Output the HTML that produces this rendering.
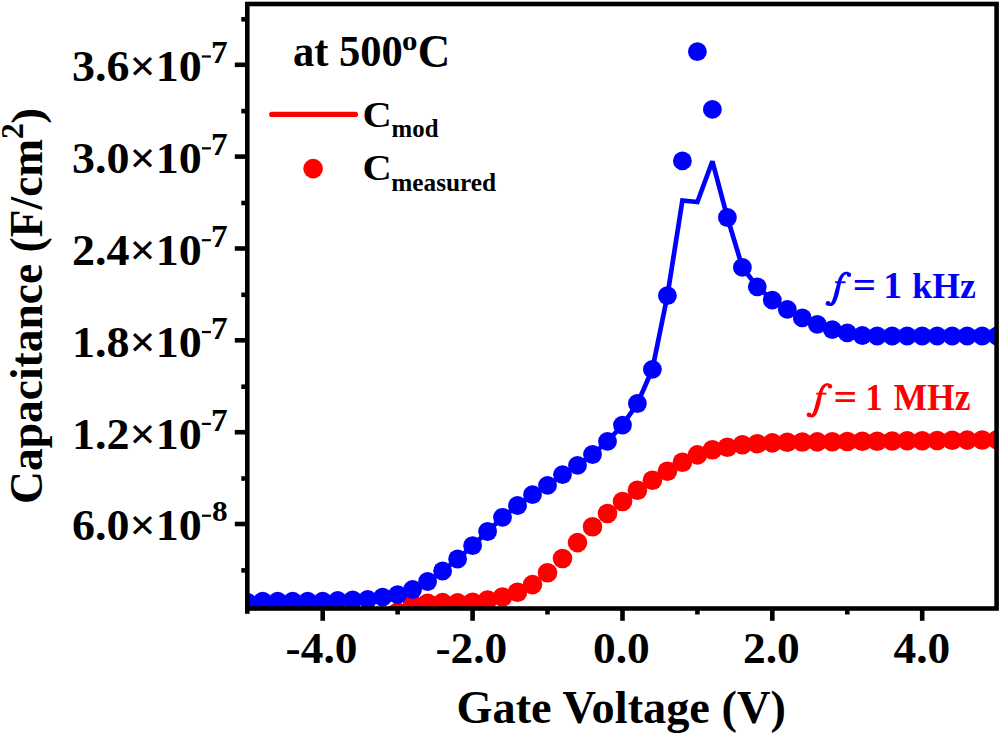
<!DOCTYPE html>
<html><head><meta charset="utf-8"><style>
html,body{margin:0;padding:0;background:#fff;}
svg{display:block;}
text{font-family:"Liberation Serif", serif;font-weight:bold;}
</style></head><body>
<svg width="1000" height="734" viewBox="0 0 1000 734">
<defs><clipPath id="pc"><rect x="247.3" y="4.0" width="749.3" height="604.5"/></clipPath></defs>
<g clip-path="url(#pc)">
<g fill="#ff0000"><circle cx="247.8" cy="620.0" r="9.8"/><circle cx="262.7" cy="620.0" r="9.8"/><circle cx="277.7" cy="620.0" r="9.8"/><circle cx="292.7" cy="620.0" r="9.8"/><circle cx="307.7" cy="620.0" r="9.8"/><circle cx="322.7" cy="620.0" r="9.8"/><circle cx="337.7" cy="620.0" r="9.8"/><circle cx="352.7" cy="620.0" r="9.8"/><circle cx="367.7" cy="620.0" r="9.8"/><circle cx="382.6" cy="618.0" r="9.8"/><circle cx="397.6" cy="612.3" r="9.8"/><circle cx="412.6" cy="604.5" r="9.8"/><circle cx="427.6" cy="603.2" r="9.8"/><circle cx="442.6" cy="602.6" r="9.8"/><circle cx="457.6" cy="602.9" r="9.8"/><circle cx="472.6" cy="602.2" r="9.8"/><circle cx="487.6" cy="600.0" r="9.8"/><circle cx="502.5" cy="597.0" r="9.8"/><circle cx="517.5" cy="592.3" r="9.8"/><circle cx="532.5" cy="584.6" r="9.8"/><circle cx="547.5" cy="572.7" r="9.8"/><circle cx="562.5" cy="558.5" r="9.8"/><circle cx="577.5" cy="542.6" r="9.8"/><circle cx="592.5" cy="526.8" r="9.8"/><circle cx="607.5" cy="513.5" r="9.8"/><circle cx="622.5" cy="501.5" r="9.8"/><circle cx="637.4" cy="490.3" r="9.8"/><circle cx="652.4" cy="480.3" r="9.8"/><circle cx="667.4" cy="471.3" r="9.8"/><circle cx="682.4" cy="462.3" r="9.8"/><circle cx="697.4" cy="454.9" r="9.8"/><circle cx="712.4" cy="449.7" r="9.8"/><circle cx="727.4" cy="447.3" r="9.8"/><circle cx="742.4" cy="444.7" r="9.8"/><circle cx="757.3" cy="443.7" r="9.8"/><circle cx="772.3" cy="442.9" r="9.8"/><circle cx="787.3" cy="442.2" r="9.8"/><circle cx="802.3" cy="442.0" r="9.8"/><circle cx="817.3" cy="441.9" r="9.8"/><circle cx="832.3" cy="441.7" r="9.8"/><circle cx="847.3" cy="441.5" r="9.8"/><circle cx="862.3" cy="441.3" r="9.8"/><circle cx="877.2" cy="441.2" r="9.8"/><circle cx="892.2" cy="441.0" r="9.8"/><circle cx="907.2" cy="440.8" r="9.8"/><circle cx="922.2" cy="440.7" r="9.8"/><circle cx="937.2" cy="440.5" r="9.8"/><circle cx="952.2" cy="440.3" r="9.8"/><circle cx="967.2" cy="440.1" r="9.8"/><circle cx="982.2" cy="440.0" r="9.8"/><circle cx="997.2" cy="439.8" r="9.8"/></g>
<polyline points="247.8,602.5 262.7,601.2 277.7,601.2 292.7,601.2 307.7,601.2 322.7,601.2 337.7,600.5 352.7,600.0 367.7,599.3 382.6,597.2 397.6,594.7 412.6,589.5 427.6,581.5 442.6,571.0 457.6,559.0 472.6,545.7 487.6,531.5 502.5,517.3 517.5,505.5 532.5,494.7 547.5,485.4 562.5,474.6 577.5,465.4 592.5,454.5 607.5,441.4 622.5,425.1 637.4,403.5 652.4,369.3 667.4,295.7 682.4,200.5 697.4,202.0 712.4,161.3 727.4,217.5 742.4,267.4 757.3,286.8 772.3,300.1 787.3,309.3 802.3,317.9 817.3,324.3 832.3,329.6 847.3,332.9 862.3,335.5 877.2,336.0 892.2,336.0 907.2,336.0 922.2,336.0 937.2,336.0 952.2,336.0 967.2,336.0 982.2,336.0 997.2,336.0" fill="none" stroke="#0000ff" stroke-width="4.7" stroke-linejoin="miter" stroke-miterlimit="2"/>
<g fill="#0000ff"><circle cx="247.8" cy="602.5" r="9.4"/><circle cx="262.7" cy="601.2" r="9.4"/><circle cx="277.7" cy="601.2" r="9.4"/><circle cx="292.7" cy="601.2" r="9.4"/><circle cx="307.7" cy="601.2" r="9.4"/><circle cx="322.7" cy="601.2" r="9.4"/><circle cx="337.7" cy="600.5" r="9.4"/><circle cx="352.7" cy="600.0" r="9.4"/><circle cx="367.7" cy="599.3" r="9.4"/><circle cx="382.6" cy="597.2" r="9.4"/><circle cx="397.6" cy="594.7" r="9.4"/><circle cx="412.6" cy="589.5" r="9.4"/><circle cx="427.6" cy="581.5" r="9.4"/><circle cx="442.6" cy="571.0" r="9.4"/><circle cx="457.6" cy="559.0" r="9.4"/><circle cx="472.6" cy="545.7" r="9.4"/><circle cx="487.6" cy="531.5" r="9.4"/><circle cx="502.5" cy="517.3" r="9.4"/><circle cx="517.5" cy="505.5" r="9.4"/><circle cx="532.5" cy="494.7" r="9.4"/><circle cx="547.5" cy="485.4" r="9.4"/><circle cx="562.5" cy="474.6" r="9.4"/><circle cx="577.5" cy="465.4" r="9.4"/><circle cx="592.5" cy="454.5" r="9.4"/><circle cx="607.5" cy="441.4" r="9.4"/><circle cx="622.5" cy="425.1" r="9.4"/><circle cx="637.4" cy="403.5" r="9.4"/><circle cx="652.4" cy="369.3" r="9.4"/><circle cx="667.4" cy="295.7" r="9.4"/><circle cx="682.4" cy="160.9" r="9.4"/><circle cx="697.4" cy="51.7" r="9.4"/><circle cx="712.4" cy="109.4" r="9.4"/><circle cx="727.4" cy="217.5" r="9.4"/><circle cx="742.4" cy="267.4" r="9.4"/><circle cx="757.3" cy="286.8" r="9.4"/><circle cx="772.3" cy="300.1" r="9.4"/><circle cx="787.3" cy="309.3" r="9.4"/><circle cx="802.3" cy="317.9" r="9.4"/><circle cx="817.3" cy="324.3" r="9.4"/><circle cx="832.3" cy="329.6" r="9.4"/><circle cx="847.3" cy="332.9" r="9.4"/><circle cx="862.3" cy="335.5" r="9.4"/><circle cx="877.2" cy="336.0" r="9.4"/><circle cx="892.2" cy="336.0" r="9.4"/><circle cx="907.2" cy="336.0" r="9.4"/><circle cx="922.2" cy="336.0" r="9.4"/><circle cx="937.2" cy="336.0" r="9.4"/><circle cx="952.2" cy="336.0" r="9.4"/><circle cx="967.2" cy="336.0" r="9.4"/><circle cx="982.2" cy="336.0" r="9.4"/><circle cx="997.2" cy="336.0" r="9.4"/></g>
</g>
<g stroke="#000" stroke-width="4.6" fill="none">
<rect x="247.3" y="4.0" width="749.3" height="604.5" stroke-linejoin="miter"/>
<line x1="247.3" y1="608.5" x2="247.3" y2="613.8"/>
<line x1="234.8" y1="64.8" x2="247.3" y2="64.8"/><line x1="234.8" y1="156.6" x2="247.3" y2="156.6"/><line x1="234.8" y1="248.5" x2="247.3" y2="248.5"/><line x1="234.8" y1="340.3" x2="247.3" y2="340.3"/><line x1="234.8" y1="432.2" x2="247.3" y2="432.2"/><line x1="234.8" y1="524.0" x2="247.3" y2="524.0"/><line x1="241.3" y1="19.3" x2="247.3" y2="19.3"/><line x1="241.3" y1="111.1" x2="247.3" y2="111.1"/><line x1="241.3" y1="203.0" x2="247.3" y2="203.0"/><line x1="241.3" y1="294.8" x2="247.3" y2="294.8"/><line x1="241.3" y1="386.7" x2="247.3" y2="386.7"/><line x1="241.3" y1="478.5" x2="247.3" y2="478.5"/><line x1="241.3" y1="570.4" x2="247.3" y2="570.4"/><line x1="322.7" y1="608.5" x2="322.7" y2="620.8"/><line x1="472.6" y1="608.5" x2="472.6" y2="620.8"/><line x1="622.5" y1="608.5" x2="622.5" y2="620.8"/><line x1="772.3" y1="608.5" x2="772.3" y2="620.8"/><line x1="922.2" y1="608.5" x2="922.2" y2="620.8"/><line x1="397.6" y1="608.5" x2="397.6" y2="614.5"/><line x1="547.5" y1="608.5" x2="547.5" y2="614.5"/><line x1="697.4" y1="608.5" x2="697.4" y2="614.5"/><line x1="847.3" y1="608.5" x2="847.3" y2="614.5"/>
</g>
<text transform="translate(71.96,81.11) scale(1.029,1)" font-size="44.71" fill="#000">3.6×10</text>
<text transform="translate(211.00,63.49) scale(1.063,1)" font-size="31.36" fill="#000">7</text>
<text transform="translate(71.96,172.96) scale(1.029,1)" font-size="44.71" fill="#000">3.0×10</text>
<text transform="translate(211.00,155.34) scale(1.063,1)" font-size="31.36" fill="#000">7</text>
<text transform="translate(71.96,264.81) scale(1.029,1)" font-size="44.71" fill="#000">2.4×10</text>
<text transform="translate(211.00,247.19) scale(1.063,1)" font-size="31.36" fill="#000">7</text>
<text transform="translate(71.96,356.66) scale(1.029,1)" font-size="44.71" fill="#000">1.8×10</text>
<text transform="translate(211.00,339.04) scale(1.063,1)" font-size="31.36" fill="#000">7</text>
<text transform="translate(71.96,448.51) scale(1.029,1)" font-size="44.71" fill="#000">1.2×10</text>
<text transform="translate(211.00,430.89) scale(1.063,1)" font-size="31.36" fill="#000">7</text>
<text transform="translate(71.96,540.36) scale(1.029,1)" font-size="44.71" fill="#000">6.0×10</text>
<text transform="translate(212.06,521.21) scale(1.056,1)" font-size="29.71" fill="#000">8</text>
<text transform="translate(285.57,663.41) scale(1.016,1)" font-size="44.71" fill="#000">-4.0</text>
<text transform="translate(435.45,663.41) scale(1.016,1)" font-size="44.71" fill="#000">-2.0</text>
<text transform="translate(593.06,663.41) scale(1.016,1)" font-size="44.71" fill="#000">0.0</text>
<text transform="translate(742.94,663.41) scale(1.016,1)" font-size="44.71" fill="#000">2.0</text>
<text transform="translate(893.50,663.41) scale(1.016,1)" font-size="44.71" fill="#000">4.0</text>
<text transform="translate(456.48,723.02) scale(0.995,1)" font-size="46.56" fill="#000">Gate Voltage (V)</text>
<text transform="translate(292.92,66.31) scale(0.959,1)" font-size="44.41" fill="#000">at 500</text>
<text transform="translate(402.06,49.53) scale(1.134,1)" font-size="27.29" fill="#000">o</text>
<text transform="translate(417.65,66.84) scale(0.985,1)" font-size="45.67" fill="#000">C</text>
<text transform="translate(362.43,126.59) scale(1.117,1)" font-size="36.27" fill="#000">C</text>
<text transform="translate(391.61,136.61) scale(1.016,1)" font-size="24.43" fill="#000">mod</text>
<text transform="translate(362.43,180.24) scale(1.117,1)" font-size="36.27" fill="#000">C</text>
<text transform="translate(391.14,191.45) scale(1.002,1)" font-size="25.29" fill="#000">measured</text>
<text transform="translate(852.76,298.41) scale(1.103,1)" font-size="37.04" fill="#0000ff">=</text>
<text transform="translate(883.37,298.00) scale(1.023,1)" font-size="36.97" fill="#0000ff">1</text>
<text transform="translate(912.29,297.65) scale(1.011,1)" font-size="35.36" fill="#0000ff">kHz</text>
<text transform="translate(833.51,409.81) scale(1.126,1)" font-size="37.04" fill="#ff0000">=</text>
<text transform="translate(865.19,410.00) scale(0.935,1)" font-size="37.58" fill="#ff0000">1</text>
<text transform="translate(893.49,409.52) scale(0.950,1)" font-size="37.50" fill="#ff0000">MHz</text>
<g fill="#000"><rect x="201.9" y="55.40" width="9.0" height="2.2"/><rect x="201.9" y="147.25" width="9.0" height="2.2"/><rect x="201.9" y="239.10" width="9.0" height="2.2"/><rect x="201.9" y="330.95" width="9.0" height="2.2"/><rect x="201.9" y="422.80" width="9.0" height="2.2"/><rect x="201.9" y="514.65" width="9.0" height="2.2"/></g>
<text transform="translate(42.25,503.9) rotate(-90)" font-size="45.5">Capacitance (F/cm</text>
<text transform="translate(22.6,139.0) rotate(-90)" font-size="31.8">2</text>
<text transform="translate(42.2,123.8) rotate(-90) scale(1.08,1)" font-size="44.4">)</text>

<g transform="translate(822,268)" fill="#0000ff"><path d="M28.48,7.31 L28.37,6.73 L28.17,6.13 L27.88,5.58 L27.50,5.10 L27.06,4.68 L26.56,4.33 L26.01,4.05 L25.41,3.85 L24.78,3.74 L24.11,3.73 L23.43,3.80 L22.74,3.97 L22.05,4.23 L21.35,4.59 L20.67,5.03 L20.00,5.57 L19.35,6.20 L18.72,6.92 L18.12,7.74 L17.55,8.65 L17.02,9.67 L16.54,10.78 L16.11,11.98 L15.83,12.89 L15.57,13.77 L15.31,14.65 L15.06,15.55 L14.80,16.45 L14.55,17.35 L14.30,18.26 L14.05,19.17 L13.81,20.07 L13.56,20.97 L13.31,21.87 L13.06,22.75 L12.81,23.62 L12.56,24.47 L12.31,25.31 L12.11,26.15 L11.91,26.96 L11.70,27.75 L11.49,28.51 L11.28,29.25 L11.07,29.95 L10.85,30.62 L10.61,31.30 L10.44,31.86 L10.28,32.31 L10.10,32.73 L9.92,33.12 L9.74,33.46 L9.55,33.77 L9.37,34.04 L9.18,34.27 L9.01,34.47 L8.86,34.66 L8.72,34.84 L8.58,35.00 L8.44,35.14 L8.29,35.26 L8.12,35.35 L7.94,35.43 L7.74,35.49 L7.51,35.51 L7.27,35.45 L7.02,35.35 L6.76,35.21 L6.49,35.03 L6.18,34.77 L4.82,36.23 L5.17,36.58 L5.56,36.91 L5.97,37.20 L6.41,37.44 L6.85,37.64 L7.31,37.83 L7.79,37.97 L8.29,38.04 L8.80,38.06 L9.32,38.01 L9.84,37.90 L10.35,37.73 L10.86,37.51 L11.33,37.22 L11.76,36.86 L12.17,36.46 L12.56,36.01 L12.92,35.54 L13.26,35.02 L13.58,34.48 L13.88,33.90 L14.15,33.28 L14.39,32.70 L14.67,32.04 L14.96,31.31 L15.24,30.55 L15.51,29.77 L15.78,28.97 L16.05,28.15 L16.31,27.31 L16.56,26.45 L16.77,25.57 L16.97,24.67 L17.17,23.77 L17.36,22.86 L17.55,21.95 L17.75,21.03 L17.94,20.11 L18.13,19.19 L18.32,18.27 L18.52,17.36 L18.71,16.46 L18.91,15.57 L19.10,14.69 L19.30,13.82 L19.49,13.02 L19.81,11.97 L20.15,11.04 L20.51,10.20 L20.89,9.45 L21.28,8.79 L21.68,8.21 L22.09,7.72 L22.50,7.30 L22.90,6.95 L23.30,6.67 L23.68,6.46 L24.04,6.30 L24.39,6.20 L24.71,6.14 L25.01,6.13 L25.29,6.15 L25.56,6.22 L25.79,6.34 L25.99,6.51 L26.16,6.72 L26.31,6.97 L26.43,7.27 L26.52,7.69Z"/><circle cx="27" cy="6.8" r="2.2"/><circle cx="6" cy="35.4" r="2.4"/><rect x="13.2" y="13.3" width="10.3" height="1.9"/></g><g transform="translate(803,379.4)" fill="#ff0000"><path d="M28.48,7.31 L28.37,6.73 L28.17,6.13 L27.88,5.58 L27.50,5.10 L27.06,4.68 L26.56,4.33 L26.01,4.05 L25.41,3.85 L24.78,3.74 L24.11,3.73 L23.43,3.80 L22.74,3.97 L22.05,4.23 L21.35,4.59 L20.67,5.03 L20.00,5.57 L19.35,6.20 L18.72,6.92 L18.12,7.74 L17.55,8.65 L17.02,9.67 L16.54,10.78 L16.11,11.98 L15.83,12.89 L15.57,13.77 L15.31,14.65 L15.06,15.55 L14.80,16.45 L14.55,17.35 L14.30,18.26 L14.05,19.17 L13.81,20.07 L13.56,20.97 L13.31,21.87 L13.06,22.75 L12.81,23.62 L12.56,24.47 L12.31,25.31 L12.11,26.15 L11.91,26.96 L11.70,27.75 L11.49,28.51 L11.28,29.25 L11.07,29.95 L10.85,30.62 L10.61,31.30 L10.44,31.86 L10.28,32.31 L10.10,32.73 L9.92,33.12 L9.74,33.46 L9.55,33.77 L9.37,34.04 L9.18,34.27 L9.01,34.47 L8.86,34.66 L8.72,34.84 L8.58,35.00 L8.44,35.14 L8.29,35.26 L8.12,35.35 L7.94,35.43 L7.74,35.49 L7.51,35.51 L7.27,35.45 L7.02,35.35 L6.76,35.21 L6.49,35.03 L6.18,34.77 L4.82,36.23 L5.17,36.58 L5.56,36.91 L5.97,37.20 L6.41,37.44 L6.85,37.64 L7.31,37.83 L7.79,37.97 L8.29,38.04 L8.80,38.06 L9.32,38.01 L9.84,37.90 L10.35,37.73 L10.86,37.51 L11.33,37.22 L11.76,36.86 L12.17,36.46 L12.56,36.01 L12.92,35.54 L13.26,35.02 L13.58,34.48 L13.88,33.90 L14.15,33.28 L14.39,32.70 L14.67,32.04 L14.96,31.31 L15.24,30.55 L15.51,29.77 L15.78,28.97 L16.05,28.15 L16.31,27.31 L16.56,26.45 L16.77,25.57 L16.97,24.67 L17.17,23.77 L17.36,22.86 L17.55,21.95 L17.75,21.03 L17.94,20.11 L18.13,19.19 L18.32,18.27 L18.52,17.36 L18.71,16.46 L18.91,15.57 L19.10,14.69 L19.30,13.82 L19.49,13.02 L19.81,11.97 L20.15,11.04 L20.51,10.20 L20.89,9.45 L21.28,8.79 L21.68,8.21 L22.09,7.72 L22.50,7.30 L22.90,6.95 L23.30,6.67 L23.68,6.46 L24.04,6.30 L24.39,6.20 L24.71,6.14 L25.01,6.13 L25.29,6.15 L25.56,6.22 L25.79,6.34 L25.99,6.51 L26.16,6.72 L26.31,6.97 L26.43,7.27 L26.52,7.69Z"/><circle cx="27" cy="6.8" r="2.2"/><circle cx="6" cy="35.4" r="2.4"/><rect x="13.2" y="13.3" width="10.3" height="1.9"/></g>
<line x1="271.7" y1="114.4" x2="355.5" y2="114.4" stroke="#ff0000" stroke-width="5.1" stroke-linecap="round"/>
<circle cx="313.1" cy="168.6" r="9.8" fill="#ff0000"/>
</svg>
</body></html>
